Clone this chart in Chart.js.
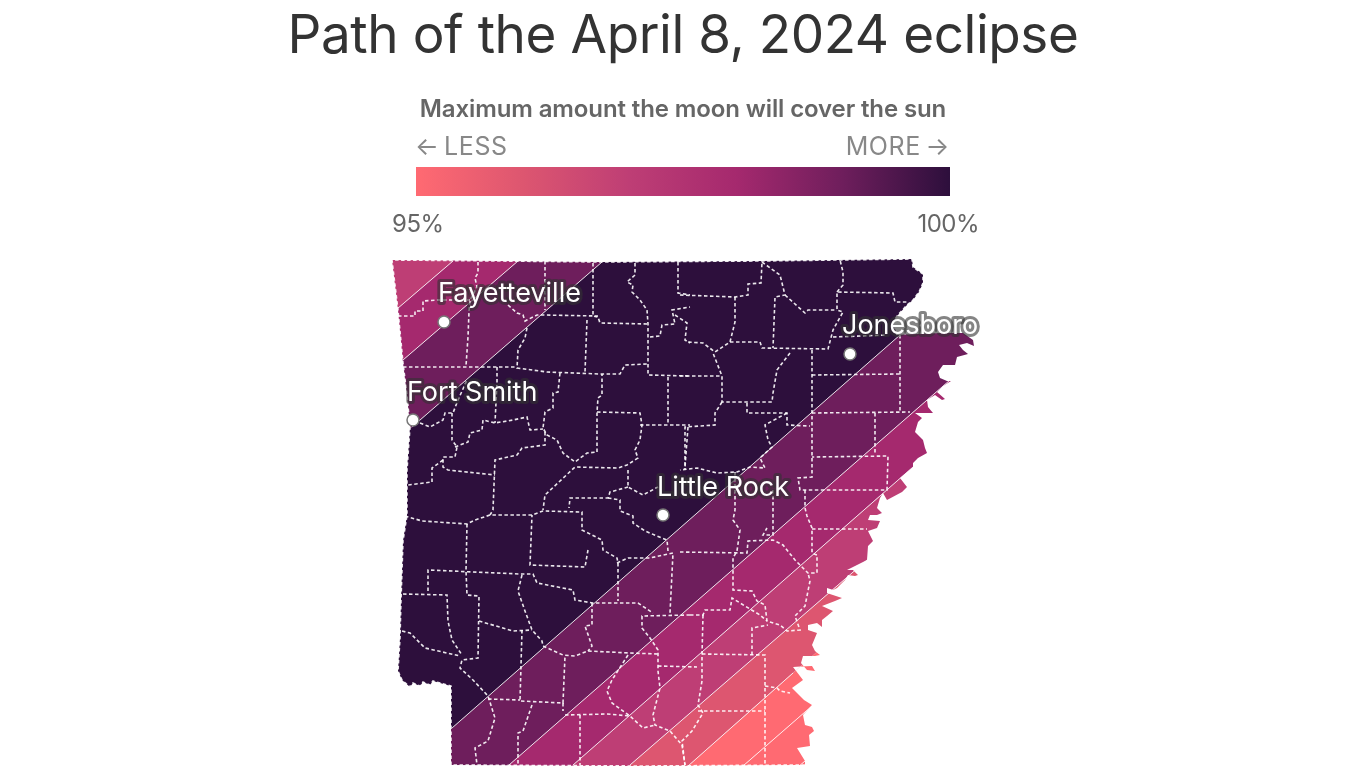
<!DOCTYPE html>
<html>
<head>
<meta charset="utf-8">
<title>Path of the April 8, 2024 eclipse</title>
<script src="https://cdn.jsdelivr.net/npm/chart.js@4"></script>
<style>
  html, body { margin: 0; background: #fff; overflow: hidden; }
  body { position: relative; width: 1366px; height: 768px; font-family: Inter, sans-serif; }
  canvas { position: absolute; left: 0; top: 0; }
  .txt { position: absolute; white-space: nowrap; }
  #title { left: 0; width: 1366px; top: 2px; text-align: center; font-size: 53px; line-height: 64px; color: #333; letter-spacing: -0.42px; }
  #scaleTitle { left: 416px; width: 534px; top: 94px; text-align: center; font-size: 24px; line-height: 30px; font-weight: 600; color: #666; letter-spacing: -0.12px; }
  #less, #more { top: 131px; font-size: 25px; line-height: 30px; color: #888; letter-spacing: 0.6px; word-spacing: -3px; }
  #less { left: 415px; }
  #more { right: 416px; }
  #bar { position: absolute; left: 416px; top: 167px; width: 534px; height: 29px; }
  #low, #high { top: 209px; font-size: 24px; line-height: 30px; color: #666; letter-spacing: -0.5px; }
  #low { left: 392px; }
  #high { right: 387px; }
</style>
</head>
<body>
<canvas id="map" width="1366" height="768"></canvas>
<div class="txt" id="title">Path of the April 8, 2024 eclipse</div>
<div class="txt" id="scaleTitle">Maximum amount the moon will cover the sun</div>
<div class="txt" id="less">← LESS</div>
<div class="txt" id="more">MORE →</div>
<div id="bar"></div>
<div class="txt" id="low">95%</div>
<div class="txt" id="high">100%</div>
<script>
// state border in map units
const landBorder = [[805,765],[640,766],[451,765],[451,686],[447,685],[433,681],[430,685],[423,682],[420,686],[413,683],[410,687],[402,680],[398,671],[400,638],[401,600],[403,541],[407,515],[407,470],[410,427],[407,395],[403,363],[398,310],[392,260],[600,262],[762,261],[912,259],[913,267],[923,274],[923,283],[919,292],[913,300],[907,305],[898,315],[893,322],[897,335]];
const riverBorder = [[940,333],[963,333],[973,340],[974,346],[967,343],[959,345],[963,350],[968,354],[957,357],[955,365],[943,365],[938,372],[940,378],[947,381],[951,381],[943,386],[937,392],[945,399],[942,400],[935,395],[927,400],[928,407],[933,413],[923,413],[915,413],[922,418],[918,422],[915,432],[923,440],[925,448],[927,453],[918,458],[913,463],[913,467],[900,478],[907,487],[902,492],[887,500],[883,493],[880,498],[877,508],[882,513],[877,515],[870,515],[868,520],[880,521],[877,528],[868,531],[873,541],[868,546],[867,560],[857,565],[847,570],[853,570],[858,575],[855,576],[848,575],[845,580],[837,588],[833,590],[827,588],[827,593],[842,598],[835,601],[822,606],[833,611],[827,616],[822,620],[822,627],[817,623],[808,625],[808,630],[817,633],[812,645],[815,651],[820,655],[815,656],[803,656],[801,663],[807,670],[815,671],[812,666],[793,667],[803,680],[792,688],[800,696],[804,700],[812,705],[803,715],[805,725],[812,727],[814,731],[809,735],[810,746],[797,748],[805,761]];

// white contour lines, north-west to south-east
const contourLines = [
  [[453,261],[397,309]],
  [[518,261],[403,360]],
  [[602,262],[412,427]],
  [[900,335],[452,728]],
  [[950,380],[509,765]],
  [[913,467],[573,765]],
  [[867,560],[630,765]],
  [[793,673],[688,766]],
  [[813,705],[743,766]],
  [[805,761],[798,767]]
];
// percent covered in each band between the contour lines
const bandCoverage = [97, 98, 99, 100, 99, 98, 97, 96, 95, 95, 95];

const countyLines = [
  [[398,316],[415,316],[415,311],[423,311],[423,301],[438,300],[470,300]],
  [[478,262],[478,273],[475,278],[477,287],[470,300],[469,312],[468,337],[466,366]],
  [[545,261],[545,310]],
  [[508,305],[517,313],[523,315],[525,321],[537,315],[543,315],[598,316]],
  [[527,328],[525,338],[518,350],[517,368],[547,372],[600,374],[620,374],[625,365],[647,364]],
  [[403,367],[470,367],[517,367]],
  [[593,263],[593,316],[598,317],[600,323],[648,324]],
  [[587,320],[585,372]],
  [[635,263],[635,275],[627,282],[633,285],[632,292],[640,300],[647,310],[648,324],[648,365],[648,375],[690,376]],
  [[678,262],[678,293],[690,295]],
  [[650,337],[660,336],[662,325],[675,324],[672,310],[690,307]],
  [[675,315],[687,323],[685,340],[690,343]],
  [[668,377],[668,425]],
  [[640,425],[690,425]],
  [[560,373],[558,392],[553,393],[553,408],[545,412],[543,428],[547,435],[557,440],[563,453],[575,462],[587,453],[597,452],[597,412],[598,398],[602,395],[602,374]],
  [[597,412],[640,413],[642,425],[640,440],[635,450],[638,458],[627,465],[618,468],[575,467],[545,495],[543,510]],
  [[497,367],[497,382],[495,423]],
  [[420,423],[430,427],[443,420],[445,413],[453,413],[458,400],[467,380]],
  [[452,413],[452,440],[457,447],[455,457],[443,457],[443,467],[448,470],[495,475]],
  [[455,447],[468,442],[470,433],[482,430],[483,420],[495,423],[513,420],[527,417],[530,430],[543,429]],
  [[545,432],[545,445],[522,448],[517,455],[495,460],[493,510],[490,515]],
  [[443,460],[432,468],[432,482],[408,485]],
  [[628,470],[628,477],[628,487],[643,495],[658,487]],
  [[628,487],[610,492],[608,498],[570,498],[569,508]],
  [[608,498],[620,500],[620,511],[633,516],[633,523],[645,531],[657,536],[667,540],[668,551]],
  [[688,427],[685,467]],
  [[680,295],[735,297],[748,295],[748,284],[761,283],[762,262]],
  [[735,297],[735,322],[730,342],[715,352],[703,343],[687,342]],
  [[730,342],[760,342],[762,348],[828,349],[833,330],[843,312],[837,310],[837,292],[893,293],[895,302],[907,302]],
  [[837,292],[843,285],[843,272],[840,260]],
  [[762,262],[780,275],[785,295],[775,297],[773,348]],
  [[785,295],[805,313],[808,310],[837,310]],
  [[833,337],[887,335]],
  [[812,350],[812,412],[812,477],[798,478],[800,490],[887,490],[888,456],[812,457]],
  [[812,375],[900,374]],
  [[900,335],[900,412]],
  [[812,413],[910,412]],
  [[875,413],[875,455]],
  [[790,353],[777,370],[773,393],[772,402],[722,402],[722,376],[713,353]],
  [[680,376],[722,376]],
  [[722,402],[715,413],[715,425],[685,427],[685,470]],
  [[747,403],[747,413],[787,413],[787,425],[810,426]],
  [[787,413],[765,425],[768,440],[772,447],[760,458],[765,468],[750,467],[737,472],[717,473],[697,468],[680,470]],
  [[735,472],[735,510],[733,520],[740,530],[737,551],[733,558],[733,590],[752,591],[757,601],[765,605],[767,621],[780,625],[787,631],[800,630],[795,616],[805,606],[810,581],[808,573]],
  [[773,490],[773,508],[773,535],[763,535],[767,528]],
  [[805,490],[805,508],[807,516],[812,528],[812,553],[817,555],[817,573],[808,573],[795,560],[783,545],[773,540],[748,541],[747,553],[680,552]],
  [[812,529],[867,529]],
  [[405,516],[422,521],[467,524],[475,520],[490,515],[532,515],[543,511],[582,512],[582,530],[602,540],[603,550],[617,558],[618,563],[618,601]],
  [[588,550],[585,567],[530,565],[532,515]],
  [[467,524],[466,571],[467,595],[479,596],[478,658],[462,660],[460,668],[473,680],[488,696],[495,718],[488,741],[475,748],[477,765]],
  [[428,591],[428,570],[520,574],[533,574],[537,583],[573,590],[575,600],[593,603],[638,603],[653,613]],
  [[403,594],[447,595],[448,621],[452,640],[462,655]],
  [[402,631],[410,633],[425,648],[460,656]],
  [[522,575],[518,591],[525,611],[532,630],[542,641],[543,646],[563,655],[575,656],[588,651],[630,653],[658,654]],
  [[479,621],[513,631],[532,630]],
  [[522,630],[520,701],[563,703],[565,656]],
  [[563,703],[563,711]],
  [[532,705],[523,731],[518,733],[518,765]],
  [[488,699],[520,700]],
  [[592,603],[592,625],[585,626],[592,646],[588,651]],
  [[690,615],[642,616],[642,628],[650,638],[658,650],[658,671],[660,688],[653,715],[655,725],[670,731],[682,745],[685,765]],
  [[565,715],[607,714],[630,716],[643,728],[655,725]],
  [[580,715],[580,765]],
  [[628,655],[612,680],[607,691],[612,703],[630,716]],
  [[658,666],[697,667]],
  [[617,563],[628,558],[650,558],[673,553],[670,613]],
  [[690,615],[703,615],[705,610],[730,610],[732,598],[745,606],[760,615],[767,621]],
  [[703,615],[702,655],[702,681],[698,705],[703,713],[692,731],[682,741],[685,765]],
  [[702,654],[765,655],[765,766]],
  [[752,655],[752,628],[768,625]],
  [[698,711],[765,711]],
  [[765,686],[777,688],[780,691],[790,693]]
];

const cityNames = ['Fayetteville', 'Jonesboro', 'Fort Smith', 'Little Rock'];
const cityX = [444, 850, 413, 663];
const cityY = [322, 354, 420, 515];

const scaleStops = { 95: '#ff6a72', 96: '#dd5670', 97: '#be3e75', 98: '#a5296e', 99: '#6e1e5c', 100: '#2d0f3c' };

const toPoints = line => line.map(p => ({ x: p[0], y: p[1] }));

// keep the part of a polygon on one side of the line a-b
function clipSide(poly, a, b, sign) {
  const side = p => sign * ((b[0] - a[0]) * (p[1] - a[1]) - (b[1] - a[1]) * (p[0] - a[0]));
  const out = [];
  poly.forEach((p, i) => {
    const q = poly[(i + 1) % poly.length];
    const sp = side(p), sq = side(q);
    if (sp >= 0) out.push(p);
    if ((sp >= 0) !== (sq >= 0)) {
      const t = sp / (sp - sq);
      out.push([p[0] + t * (q[0] - p[0]), p[1] + t * (q[1] - p[1])]);
    }
  });
  return out;
}

const stateOutline = landBorder.concat(riverBorder);

const bandSets = bandCoverage.map((pct, i) => {
  let poly = stateOutline;
  if (i > 0) poly = clipSide(poly, contourLines[i - 1][0], contourLines[i - 1][1], -1);
  if (i < contourLines.length) poly = clipSide(poly, contourLines[i][0], contourLines[i][1], 1);
  return {
    label: pct + '%',
    data: toPoints(poly),
    showLine: true,
    fill: 'shape',
    backgroundColor: scaleStops[pct],
    borderWidth: 0,
    pointRadius: 0,
    order: 4
  };
});

const contourSets = contourLines.map(line => ({
  data: toPoints(line),
  showLine: true,
  borderColor: 'rgba(255,255,255,0.8)',
  borderWidth: 1,
  pointRadius: 0,
  order: 3
}));

const dashedSets = countyLines.concat([landBorder]).map(line => ({
  data: toPoints(line),
  showLine: true,
  borderColor: 'rgba(255,255,255,0.9)',
  borderWidth: 1.6,
  borderDash: [3.5, 2.5],
  pointRadius: 0,
  order: 2
}));

const citySet = {
  data: cityX.map((x, i) => ({ x, y: cityY[i] })),
  pointRadius: 6,
  pointBackgroundColor: '#fff',
  pointBorderColor: '#777',
  pointBorderWidth: 1.5,
  order: 1
};

// city names sit above and to the right of their dots
const cityLabels = {
  id: 'cityLabels',
  afterDatasetsDraw(chart) {
    const { ctx, scales } = chart;
    const shiftX = [-6, -8, -6, -6];
    const shiftY = [-28, -28, -27, -27];
    ctx.save();
    ctx.font = '400 27px Inter, sans-serif';
    ctx.textBaseline = 'middle';
    ctx.lineJoin = 'round';
    cityNames.forEach((name, i) => {
      const x = scales.x.getPixelForValue(cityX[i]) + shiftX[i];
      const y = scales.y.getPixelForValue(cityY[i]) + shiftY[i];
      ctx.lineWidth = 6;
      ctx.strokeStyle = 'rgba(50,50,50,0.6)';
      ctx.strokeText(name, x, y);
      ctx.fillStyle = '#fff';
      ctx.fillText(name, x, y);
    });
    ctx.restore();
  }
};

document.getElementById('bar').style.background = 'linear-gradient(to right,' +
  Object.keys(scaleStops).map(Number).sort((a, b) => a - b).map(k => scaleStops[k]).join(',') + ')';

new Chart(document.getElementById('map'), {
  type: 'scatter',
  data: { datasets: [citySet, ...dashedSets, ...contourSets, ...bandSets] },
  options: {
    responsive: false,
    animation: false,
    layout: { padding: 0, autoPadding: false },
    plugins: { legend: { display: false }, tooltip: { enabled: false } },
    scales: {
      x: { type: 'linear', min: 0, max: 1366, display: false },
      y: { type: 'linear', min: 0, max: 768, reverse: true, display: false }
    }
  },
  plugins: [cityLabels]
});
</script>
</body>
</html>
